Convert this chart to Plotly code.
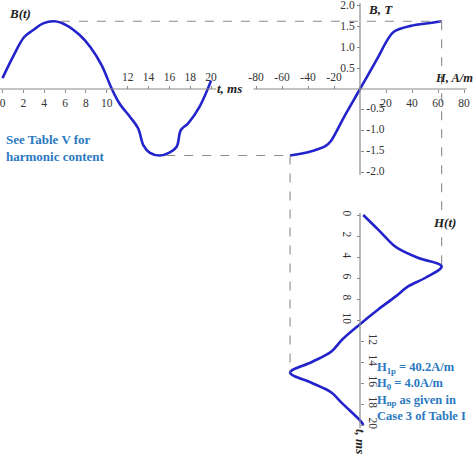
import plotly.graph_objects as go

# ---------------- data ----------------
bt_time = [0.0, 1.0, 2.1, 2.95, 3.9, 5.0, 6.1, 7.4, 8.4, 9.5, 10.45, 11.2, 12.2, 13.0, 13.5, 14.1, 15.1, 16.0, 16.7, 17.1, 17.8, 18.9, 20.0]
bt_flux = [0.26, 0.77, 1.25, 1.41, 1.57, 1.62, 1.53, 1.29, 1.01, 0.57, 0.02, -0.34, -0.66, -0.94, -1.34, -1.52, -1.59, -1.52, -1.38, -0.98, -0.82, -0.42, 0.2]

bh_field = [-53.8, -45.6, -35.4, -26.4, -22.5, -12.3, 0.0, 13.4, 21.0, 26.0, 39.0, 54.0, 62.8]
bh_flux = [-1.59, -1.55, -1.47, -1.36, -1.25, -0.67, 0.0, 0.73, 1.17, 1.37, 1.51, 1.58, 1.62]

ht_time = [0.0, 1.4, 2.86, 3.2, 4.1, 4.9, 6.0, 6.8, 7.8, 9.0, 10.4, 11.9, 13.0, 14.0, 15.0, 16.0, 16.9, 17.9, 19.7, 20.0]
ht_field = [2.5, 14.0, 25.6, 29.5, 45.0, 62.8, 50.0, 37.0, 27.0, 14.0, 0.0, -14.0, -22.0, -37.0, -53.8, -37.0, -22.0, -14.0, 1.0, 2.5]

t_ticks_low = [0, 2, 4, 6, 8, 10]
t_ticks_high = [12, 14, 16, 18, 20]
h_ticks_neg = [-80, -60, -40, -20]
h_ticks_pos = [20, 40, 60, 80]
b_ticks_pos = [0.5, 1.0, 1.5, 2.0]
b_ticks_neg = [-0.5, -1.0, -1.5, -2.0]

# ---------------- layout geometry (pixels) ----------------
W, H = 474, 457
X_T0, PX_PER_MS1 = 2.5, 10.43      # panel 1 time axis
Y_B0, PX_PER_T = 89.0, 41.8        # flux density axis
X_H0, PX_PER_AM = 360.0, 1.3       # field strength axis
Y_T0, PX_PER_MS3 = 215.0, 10.5     # panel 3 time axis

t1_range = [(0 - X_T0) / PX_PER_MS1, (W - X_T0) / PX_PER_MS1]
b_range = [-(H - Y_B0) / PX_PER_T, Y_B0 / PX_PER_T]
h_range = [(0 - X_H0) / PX_PER_AM, (W - X_H0) / PX_PER_AM]
t3_range = [(H - Y_T0) / PX_PER_MS3, (0 - Y_T0) / PX_PER_MS3]  # reversed


def px_x_t1(t):
    return (X_T0 + t * PX_PER_MS1) / W


def px_x_h(h):
    return (X_H0 + h * PX_PER_AM) / W


def px_y_b(b):
    return 1 - (Y_B0 - b * PX_PER_T) / H


def px_y_t3(t):
    return 1 - (Y_T0 + t * PX_PER_MS3) / H


def labels(vals, fmt="{:g}"):
    return [fmt.format(v) for v in vals]


SERIF = "Liberation Serif, Times New Roman, serif"
AX_COL = "#8a8a8a"
CURVE = "#2323cc"
NOTE = "#2b79bf"
DASH = "#8c8c8c"

fig = go.Figure()
line_style = dict(color=CURVE, width=2.6)
fig.add_trace(go.Scatter(x=bt_time, y=bt_flux, mode="lines", line=line_style, line_shape="spline",
                         xaxis="x", yaxis="y", hoverinfo="skip"))
fig.add_trace(go.Scatter(x=bh_field, y=bh_flux, mode="lines", line=line_style, line_shape="spline",
                         xaxis="x2", yaxis="y", hoverinfo="skip"))
fig.add_trace(go.Scatter(x=ht_field, y=ht_time, mode="lines", line=line_style, line_shape="spline",
                         xaxis="x2", yaxis="y3", hoverinfo="skip"))
# invisible anchors so overlay axes are drawn
inv = dict(mode="markers", marker=dict(opacity=0), hoverinfo="skip", showlegend=False)
fig.add_trace(go.Scatter(x=[t_ticks_high[0]], y=[0], xaxis="x3", yaxis="y", **inv))
fig.add_trace(go.Scatter(x=[h_ticks_pos[0]], y=[0], xaxis="x4", yaxis="y", **inv))
fig.add_trace(go.Scatter(x=[0], y=[b_ticks_neg[0]], xaxis="x2", yaxis="y5", **inv))
fig.add_trace(go.Scatter(x=[0], y=[t_ticks_high[0]], xaxis="x2", yaxis="y6", **inv))

tickfont = dict(family=SERIF, size=11.5, color="#333333")
common = dict(domain=[0, 1], showgrid=False, zeroline=False, showline=False, ticks="outside",
              ticklen=3, tickwidth=1, tickcolor=AX_COL, tickfont=tickfont, fixedrange=True,
              ticklabeloverflow="allow")

fig.update_layout(
    width=W, height=H, margin=dict(l=0, r=0, t=0, b=0),
    paper_bgcolor="white", plot_bgcolor="rgba(0,0,0,0)", showlegend=False,
    xaxis=dict(range=t1_range, anchor="free", position=px_y_b(0), side="bottom",
               tickvals=t_ticks_low, ticktext=labels(t_ticks_low), **common),
    xaxis3=dict(range=t1_range, anchor="free", position=px_y_b(0), side="top", overlaying="x",
                tickvals=t_ticks_high, ticktext=labels(t_ticks_high), **common),
    xaxis2=dict(range=h_range, anchor="free", position=px_y_b(0), side="top",
                tickvals=h_ticks_neg, ticktext=labels(h_ticks_neg), **common),
    xaxis4=dict(range=h_range, anchor="free", position=px_y_b(0), side="bottom", overlaying="x2",
                tickvals=h_ticks_pos, ticktext=labels(h_ticks_pos), **common),
    yaxis=dict(range=b_range, anchor="free", position=px_x_h(0), side="left",
               tickvals=b_ticks_pos, ticktext=labels(b_ticks_pos, "{:.1f}"), **common),
    yaxis5=dict(range=b_range, anchor="free", position=px_x_h(0), side="right", overlaying="y",
                tickvals=b_ticks_neg, ticktext=labels(b_ticks_neg, "{:.1f}"), ticklabelshift=-2, **common),
    yaxis3=dict(range=t3_range, anchor="free", position=px_x_h(0), side="left", overlaying="y",
                tickvals=t_ticks_low, ticktext=labels(t_ticks_low), tickangle=90, **common),
    yaxis6=dict(range=t3_range, anchor="free", position=px_x_h(0), side="right", overlaying="y",
                tickvals=t_ticks_high, ticktext=labels(t_ticks_high), tickangle=90, **common),
)

shapes = []
ax_line = dict(color=AX_COL, width=1.2)
# axis lines
shapes.append(dict(type="line", xref="paper", yref="paper", x0=0, x1=px_x_t1(20.5),
                   y0=px_y_b(0), y1=px_y_b(0), line=ax_line))
shapes.append(dict(type="line", xref="paper", yref="paper", x0=px_x_h(-82), x1=px_x_h(82),
                   y0=px_y_b(0), y1=px_y_b(0), line=ax_line))
shapes.append(dict(type="line", xref="paper", yref="paper", x0=px_x_h(0), x1=px_x_h(0),
                   y0=px_y_b(-2.05), y1=px_y_b(2.05), line=ax_line))
shapes.append(dict(type="line", xref="paper", yref="paper", x0=px_x_h(0), x1=px_x_h(0),
                   y0=px_y_t3(20.3), y1=px_y_t3(-0.2), line=ax_line))

# dashed connectors derived from the data extremes
b_max, b_min = max(bt_flux), min(bt_flux)
t_at_max = bt_time[bt_flux.index(b_max)]
t_at_min = bt_time[bt_flux.index(b_min)]
h_max, h_min = max(bh_field), min(bh_field)
th_at_max = ht_time[ht_field.index(max(ht_field))]
th_at_min = ht_time[ht_field.index(min(ht_field))]
dash = dict(color=DASH, width=1.1, dash="dash")
shapes.append(dict(type="line", xref="paper", yref="paper", x0=px_x_t1(t_at_max + 0.6), x1=px_x_h(h_max),
                   y0=px_y_b(b_max), y1=px_y_b(b_max), line=dash))
shapes.append(dict(type="line", xref="paper", yref="paper", x0=px_x_t1(t_at_min + 0.6), x1=px_x_h(h_min),
                   y0=px_y_b(b_min), y1=px_y_b(b_min), line=dash))
shapes.append(dict(type="line", xref="paper", yref="paper", x0=px_x_h(h_max), x1=px_x_h(h_max),
                   y0=px_y_b(b_max), y1=px_y_t3(th_at_max), line=dash))
shapes.append(dict(type="line", xref="paper", yref="paper", x0=px_x_h(h_min), x1=px_x_h(h_min),
                   y0=px_y_b(b_min), y1=px_y_t3(th_at_min), line=dash))
fig.update_layout(shapes=shapes)

lab = dict(family=SERIF, size=13, color="#222222")
note = dict(family=SERIF, size=13, color=NOTE)


def ann(text, x, y, font, xanchor="left", yanchor="middle", angle=0, align="left"):
    fig.add_annotation(text=text, x=x / W, y=1 - y / H, xref="paper", yref="paper", showarrow=False,
                       font=font, xanchor=xanchor, yanchor=yanchor, textangle=angle, align=align)


ann("<b><i>B(t)</i></b>", 7, 13, lab)
ann("<b><i>t, ms</i></b>", 215, 89, lab)
ann("<b><i>B, T</i></b>", 366, 9, lab)
ann("<b><i>H, A/m</i></b>", 433, 78, dict(lab, size=12.5))
ann("<b><i>H(t)</i></b>", 431, 222, lab)
ann("<b><i>t, ms</i></b>", 361, 441, lab, xanchor="center", angle=90)
ann("<b>See Table V for<br>harmonic content</b>", 4, 148, note)
ann("<b>H<sub>1p</sub> = 40.2A/m<br>H<sub>0</sub> = 4.0A/m<br>H<sub>np</sub> as given in<br>Case 3 of Table I</b>",
    375, 391, dict(note, size=12.5))

fig.write_html("out.html", config={"displayModeBar": False},
               post_script="document.body.style.margin='0px';document.body.style.overflow='hidden';")
